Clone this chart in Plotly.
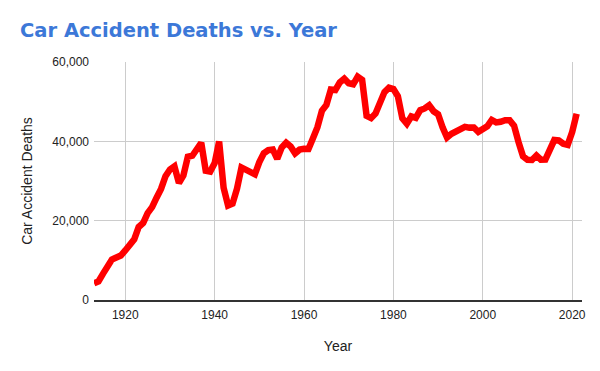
import plotly.graph_objects as go

years = list(range(1913, 2022))
deaths = [
    4200, 4700, 6600, 8200, 10200, 10700, 11200, 12500, 13900, 15300,
    18400, 19400, 21900, 23400, 25800, 28000, 31200, 32900, 33700, 29500,
    31363, 36101, 36369, 38089, 39643, 32582, 32386, 34501, 39969, 28309,
    23823, 24282, 28076, 33411, 32697, 32259, 31701, 34763, 36996, 37794,
    37956, 35586, 38426, 39628, 38702, 36981, 37910, 38137, 38091, 40804,
    43564, 47700, 49163, 53041, 52924, 54862, 55791, 54633, 54381, 56278,
    55511, 46402, 45853, 47038, 49510, 52411, 53524, 53172, 51385, 45779,
    44452, 46263, 45901, 47865, 48290, 49078, 47575, 46814, 43536, 40982,
    41893, 42524, 43363, 43649, 43458, 43501, 42401, 43354, 43788, 45380,
    44757, 44933, 45343, 45316, 43945, 39790, 36216, 35332, 35303, 36415,
    35369, 35398, 37757, 40327, 40231, 39404, 39107, 42339, 46980,
]
x_ticks = [1920, 1940, 1960, 1980, 2000, 2020]
y_ticks = [0, 20000, 40000, 60000]
y_tick_labels = ["0", "20,000", "40,000", "60,000"]

fig = go.Figure(go.Scatter(
    x=years, y=deaths, mode="lines",
    line=dict(color="#ff0000", width=6.5),
    hoverinfo="x+y",
))

font_family = "Arial, 'Liberation Sans', sans-serif"
W, H = 592, 363  # page body adds an 8px offset in the viewer
fig.update_layout(
    width=W, height=H,
    margin=dict(l=86, r=18, t=54, b=71, autoexpand=False),
    paper_bgcolor="white", plot_bgcolor="white",
    showlegend=False,
    font=dict(family=font_family, size=12, color="#222222"),
    title=dict(
        text="<b>Car Accident Deaths vs. Year</b>",
        font=dict(family="'DejaVu Sans', sans-serif", size=19.5, color="#3c78d8"),
        x=12 / W, xref="container", xanchor="left",
        y=1 - 22 / H, yref="container", yanchor="middle",
    ),
    xaxis=dict(
        range=[1913, 2022.2],
        tickvals=x_ticks,
        ticktext=[str(v) for v in x_ticks],
        showgrid=True, gridcolor="#cccccc", gridwidth=1,
        showline=True, linecolor="#333333", linewidth=1.5,
        zeroline=False, ticks="",
        ticklabelstandoff=3,
        title=dict(text="Year", standoff=20),
        tickfont=dict(size=12, color="#222222"),
    ),
    yaxis=dict(
        range=[0, 60000],
        tickvals=y_ticks, ticktext=y_tick_labels,
        showgrid=True, gridcolor="#cccccc", gridwidth=1,
        showline=False, zeroline=False, ticks="",
        ticklabelstandoff=4,
        title=dict(text="Car Accident Deaths", standoff=16),
        tickfont=dict(size=12, color="#222222"),
    ),
)

fig.write_html("out.html")
